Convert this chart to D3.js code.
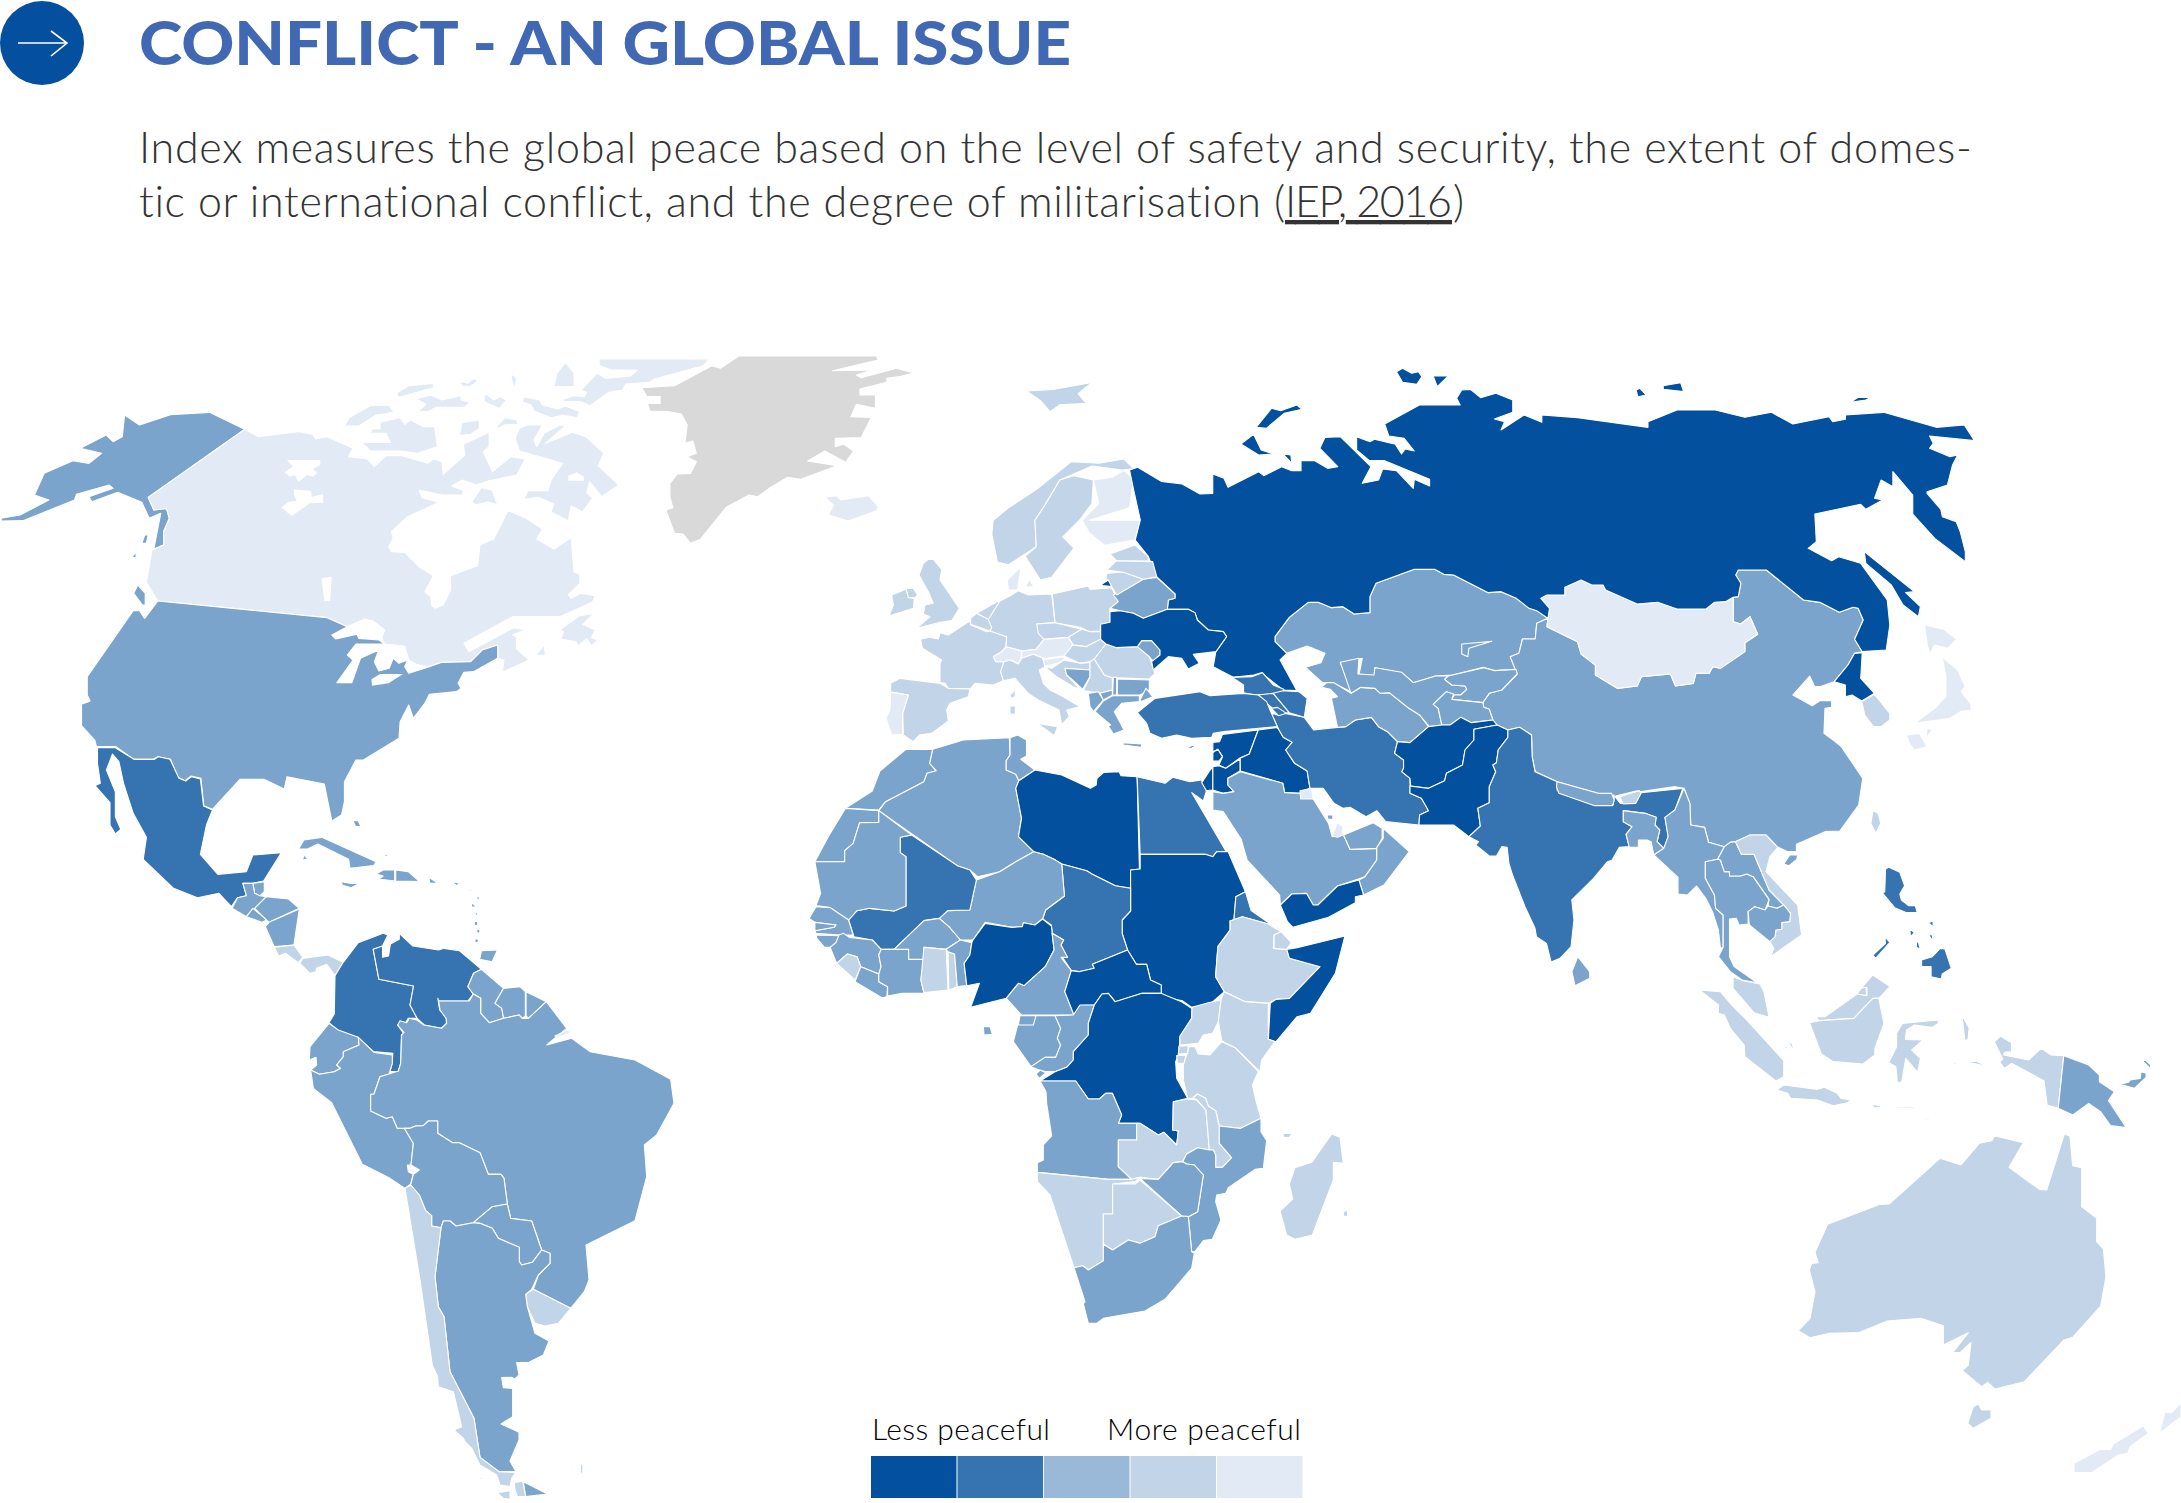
<!DOCTYPE html>
<html><head><meta charset="utf-8">
<script src="https://cdn.jsdelivr.net/npm/d3@7/dist/d3.min.js"></script>
<style>html,body{margin:0;padding:0;background:#fff}svg{display:block}text{font-variant-ligatures:none;text-decoration-skip-ink:none}</style>
</head><body><svg id="c" width="2181" height="1503" viewBox="0 0 2181 1503"></svg>
<script>
const titleText = 'CONFLICT - AN GLOBAL ISSUE';
const subtitleLine1 = 'Index measures the global peace based on the level of safety and security, the extent of domes-';
const subtitleLine2 = 'tic or international conflict, and the degree of militarisation (';
const sourceText = 'IEP, 2016';
const legendLabels = ['Less peaceful','More peaceful'];
const peaceClasses = [1,2,3,4,5];
const mapColors = ['#03509e','#3573b1','#7ba4cd','#c2d4e8','#e2eaf5'];
const legendColors = ['#03509e','#3573b1','#9ab9d9','#c2d4e8','#e2eaf5'];
const noDataColor = '#d9d9d9';
// Outlines are [name, peace class (0 = water, 6 = no data), ring, ring...] in the map plane of each sheet.
const northAmerica = [
['Alaska',3,'426,253 365,202 297,209 243,240 217,210 213,275 197,290 185,270 140,310 177,325 155,355 127,347 77,385 60,450 85,465 35,510 2,520 2,528 40,527 130,465 133,448 190,420 197,430 155,455 160,470 205,442 247,472 260,520 280,505 268,612 285,600 285,560 295,520 290,490 268,495 258,457','247,595 252,570 258,570 255,595','230,635 237,622 237,640','233,745 240,720 253,745 253,780 248,780'],
['Canada',5,'426,253 450,275 520,260 545,268 550,282 570,275 615,310 607,335 640,342 652,365 673,332 700,332 745,355 755,342 770,350 772,388 810,330 807,298 852,262 852,305 842,320 858,380 890,335 915,342 900,390 850,408 830,420 805,405 787,423 808,437 805,450 770,450 730,435 735,458 765,472 710,515 682,560 685,580 677,605 682,620 705,622 730,665 755,692 740,740 750,755 752,780 758,790 772,780 785,735 785,692 832,662 836,600 860,582 885,497 915,518 945,552 935,582 965,612 995,578 1000,680 1010,688 1010,715 990,750 995,760 1012,745 1037,752 1032,772 975,815 893,815 808,895 817,920 895,848 915,855 893,870 900,875 900,912 922,945 875,982 878,945 868,940 867,900 840,915 820,950 770,952 745,965 725,958 712,945 705,903 670,897 665,880 670,855 650,828 635,822 605,845 570,818 275,768 255,712 265,615 285,600 285,560 295,520 290,490 268,495 258,457','822,470 838,428 857,435 867,480 850,470 828,480','897,280 905,250 918,240 945,240 930,285 935,305 948,265 975,240 985,243 950,295 997,262 1022,277 1052,325 1042,362 1078,420 1048,455 1027,410 1022,443 1032,460 1015,500 995,483 990,528 960,500 965,478 938,457 912,463 920,437 955,437 960,405 980,355 905,318','630,292 680,292 672,265 645,265 648,252 662,252 662,232 697,218 705,238 715,225 738,245 757,245 762,305 727,325 698,318 645,318','600,243 608,218 645,182 677,180 687,202 655,210 625,243','690,145 712,122 755,115 755,128 695,157','725,162 750,150 770,165 803,152 803,165 818,172 810,187 760,187 745,200 728,200 742,178','800,112 808,110 815,115 825,100 833,108 818,125 805,123','845,145 860,165 872,155 882,165 870,190 843,170','893,87 900,100 897,130 890,100','805,232 835,225 835,250 820,268 800,272','880,218 900,225 903,237 878,240 868,250 865,245','1043,42 1235,42 1225,62 1140,102 1132,112 1090,117 1085,135 1060,142 1028,182 1012,170 985,170 977,165 1000,152 1018,155 1022,142 1012,135 1040,85 1055,100 1098,93 1110,75 1065,75 1045,62','985,52 1000,85 1000,125 965,125 970,85','912,155 940,165 945,180 972,192 985,183 1010,200 1005,218 980,210 960,218 930,198 925,180 910,170','975,855 1010,812 1035,805 1015,838 1037,855 1030,878 1042,885 1030,903 1022,880 1008,903 1003,890 977,882 982,860','933,932 948,900 950,930'],
['United States',3,'275,768 570,818 605,845 578,870 585,882 622,868 625,880 660,885 670,897 620,897 605,930 615,945 587,1013 613,1013 628,940 660,915 652,950 660,978 678,970 685,940 695,955 710,945 705,965 712,985 740,970 770,952 820,950 840,915 867,900 867,940 825,980 808,982 798,1015 803,1030 795,1040 748,1048 740,1075 720,1120 712,1080 697,1130 695,1180 633,1245 620,1245 600,1310 600,1370 595,1410 578,1428 565,1317 500,1295 495,1332 460,1303 418,1303 370,1393 355,1382 350,1300 333,1293 322,1308 310,1297 297,1243 275,1235 267,1243 233,1243 202,1205 168,1205 165,1185 142,1142 142,1078 157,1068 152,1050 152,995 232,797 243,797 252,820'],
['Iceland',5,'1437,457 1457,452 1465,465 1513,452 1530,485 1527,497 1478,528 1443,510 1452,480'],
['Greenland',6,'1287,33 1527,33 1530,45 1450,77 1520,75 1492,90 1500,98 1562,70 1592,84 1566,95 1545,100 1545,112 1498,132 1498,150 1525,150 1525,190 1492,178 1482,215 1518,217 1500,278 1455,280 1455,305 1470,298 1487,318 1473,352 1437,318 1407,348 1458,362 1395,403 1372,397 1340,430 1320,455 1305,450 1265,487 1220,583 1203,595 1190,567 1175,565 1160,495 1172,488 1167,455 1167,415 1180,387 1203,385 1213,350 1197,335 1213,325 1207,288 1193,295 1197,240 1187,207 1165,200 1132,198 1128,175 1150,175 1150,155 1127,155 1118,128 1175,122 1240,62 1255,70'],
['Great Bear Lake',0,'500,345 558,345 558,360 545,372 553,385 545,395 535,390 520,410 513,390 505,395 495,382 510,365'],
['Great Slave Lake',0,'512,433 542,438 543,455 563,447 563,473 540,475 508,513 490,487 503,470 517,467 512,450'],
['Lake Winnipeg',0,'560,700 578,695 575,768 565,768'],
['Lake Erie',0,'647,1003 662,987 702,987 677,1015 648,1022'],
['Baffin lake',0,'990,392 1005,382 1017,395 1017,407 990,407']
];
const centralAmerica = [
['Mexico',2,'105,83 155,83 207,118 265,118 275,110 308,118 333,175 352,183 368,170 393,177 402,258 427,270 410,315 393,403 442,463 522,455 540,405 620,398 570,483 540,490 512,490 522,527 497,533 480,560 445,520 385,533 318,505 233,418 242,352 205,280 178,190 165,125 147,102 130,150 155,215 155,290 170,328 155,342 140,315 140,248 98,197 113,190 105,130'],
['Belize',3,'540,490 572,485 572,515 560,527 545,520'],
['Guatemala',3,'512,490 540,490 545,520 560,527 578,530 545,565 522,590 482,565 497,533 522,527'],
['El Salvador',3,'522,590 540,565 580,600 565,607'],
['Honduras',3,'578,530 640,537 670,565 585,607 545,565'],
['Nicaragua',3,'670,567 655,675 600,680 575,620 585,607'],
['Costa Rica',4,'600,682 655,675 680,712 667,728 632,700 612,708'],
['Panama',4,'680,715 750,705 793,727 770,767 747,733 718,745 717,755 700,760 672,730'],
['Colombia',2,'770,767 793,727 835,668 905,640 918,645 903,678 877,688 893,778 990,798 980,855 1000,895 975,895 968,908 945,915 962,940 956,945 954,1030 947,1054 924,1055 930,1030 932,1000 878,995 835,953 780,932 753,908 768,882'],
['Venezuela',2,'877,688 903,678 903,712 920,708 925,672 950,658 950,640 988,678 1060,690 1075,685 1118,692 1180,748 1158,760 1142,800 1157,822 1142,843 1060,843 1058,835 1063,870 1082,893 1082,910 1067,925 1020,915 1000,895 980,855 990,798 893,778'],
['Trinidad',3,'1180,692 1225,690 1210,725 1175,718'],
['Guyana',3,'1180,748 1242,805 1218,850 1237,865 1242,895 1202,908 1178,880 1178,835 1157,822 1142,800 1158,760'],
['Suriname',3,'1242,805 1288,800 1303,815 1303,888 1295,895 1285,885 1242,895 1237,865 1218,850'],
['French Guiana',3,'1305,815 1362,845 1312,895 1305,888'],
['Cuba',3,'668,387 683,360 733,352 885,425 878,437 812,445 808,418 722,372 693,387'],
['Haiti',3,'885,462 905,450 937,450 937,483 892,477 905,468'],
['Dominican Republic',3,'940,450 975,455 1002,480 1002,485 940,483'],
['Jamaica',3,'787,485 815,490 840,490 815,503 790,495'],
['Antilles',3,'678,420 685,404 693,418','908,410 913,400 918,410','820,302 835,302 843,320 828,320','1033,472 1058,490 1035,490','1098,485 1120,490 1110,497','1143,508 1157,508 1148,514','1167,525 1178,538 1168,538','1152,548 1166,560 1153,562','1162,572 1172,585 1163,585','1160,603 1170,605 1168,618 1160,615','1167,627 1176,630 1175,640 1167,638','1162,657 1172,657 1170,668 1162,668']
];
const southAmerica = [
['Ecuador',3,'147,70 175,90 235,112 237,135 190,155 190,170 170,195 182,205 163,215 118,223 92,210 110,195 108,172 88,180 90,140'],
['Peru',3,'92,210 118,223 163,215 182,205 170,195 190,170 190,155 237,135 235,112 282,157 337,165 337,190 327,222 300,230 282,282 272,283 272,333 318,355 337,350 352,385 373,385 400,430 393,495 382,495 385,515 400,523 392,552 375,565 330,535 247,493 155,308 100,265'],
['Brazil',3,'476,3 568,3 580,-18 602,-5 602,40 628,68 671,55 717,45 727,55 745,55 799,5 860,85 800,135 875,115 930,155 1065,180 1172,238 1182,310 1130,405 1093,435 1100,530 1065,662 918,735 927,840 913,875 872,925 760,868 775,825 810,790 810,760 785,750 755,663 692,655 682,612 672,535 663,523 625,523 600,458 538,428 518,428 473,400 473,363 445,363 430,377 407,378 390,385 373,385 352,385 337,350 318,355 272,333 272,283 282,282 300,230 327,222 355,213 362,190 365,105 372,97 353,75 360,62 380,68 388,55 410,60 432,75 485,85 500,70 498,55 480,30'],
['Bolivia',3,'373,385 390,385 407,378 430,377 445,363 473,363 473,400 518,428 538,428 600,458 625,523 663,523 672,535 682,612 637,620 580,668 528,678 510,663 490,663 483,683 455,678 455,647 437,632 418,585 392,555 400,523 418,510 393,495 400,430'],
['Paraguay',3,'682,612 692,655 755,663 785,750 757,787 725,795 718,785 718,742 655,715 637,685 600,670 580,668 637,620'],
['Uruguay',4,'737,883 760,868 872,925 835,970 795,978 765,970 742,920'],
['Argentina',3,'490,663 510,663 528,678 580,668 600,670 637,685 655,715 718,742 718,785 725,795 757,787 785,750 810,760 810,790 775,825 755,868 737,883 742,920 765,1000 807,1023 790,1065 747,1087 710,1088 717,1125 705,1137 695,1132 665,1133 670,1163 698,1165 698,1250 663,1272 717,1297 717,1320 690,1383 708,1415 657,1415 600,1372 582,1255 510,1115 492,950 475,920 465,830 483,683','730,1445 803,1482 737,1490'],
['Chile',4,'375,565 392,555 418,585 437,632 455,647 455,678 483,683 465,830 475,920 492,950 510,1115 582,1255 600,1372 657,1415 708,1418 695,1435 690,1460 660,1455 650,1425 600,1395 575,1345 555,1325 550,1315 522,1290 545,1280 520,1175 475,1160 473,1130 457,1095 420,840','703,1448 728,1443 737,1490 712,1490 705,1470','652,1478 690,1472 690,1498 670,1495','590,1430 605,1432 615,1443'],
['Falklands',3,'903,1393 908,1393 908,1420 903,1420','875,1400 880,1400 880,1408'],
['Marajo',5,'825,108 868,88 868,100 835,112']
];
const europe = [
['United Kingdom',4,'205,118 220,118 245,148 240,180 298,265 275,302 235,308 170,325 210,290 190,282 195,255 220,250 205,215 177,165 190,130','138,205 160,205 173,225 165,233 145,233'],
['Ireland',4,'95,225 138,208 145,233 163,235 160,265 87,288 100,255'],
['France',4,'182,358 208,352 235,357 240,338 265,345 330,302 332,315 380,335 395,333 440,350 438,380 425,395 400,410 408,425 432,425 422,455 430,482 400,495 345,490 330,507 265,505 255,490 240,487 240,430 245,420 187,385','450,525 467,508 465,530 452,535'],
['Belgium',4,'332,295 350,280 385,298 395,323 390,333 332,313'],
['Netherlands',4,'350,280 415,243 420,270 385,298'],
['Germany',4,'420,243 385,298 395,323 390,333 440,350 438,380 485,393 528,388 552,358 530,312 585,308 575,222 505,225 475,212 455,225'],
['Denmark',5,'445,210 442,180 483,140 473,210','498,195 508,177 522,200 500,202'],
['Poland',4,'577,222 685,198 690,208 755,203 775,245 750,265 750,307 722,313 720,333 690,335 660,322 585,308'],
['Kaliningrad',1,'725,193 745,180 757,200 727,197'],
['Czech Republic',4,'530,312 585,308 665,328 625,352 552,358 535,340'],
['Slovakia',4,'625,352 665,328 690,335 722,335 722,358 678,380 640,375'],
['Austria',5,'485,393 528,388 552,358 625,352 638,375 612,408 555,415 520,403 485,415'],
['Switzerland',5,'400,410 425,395 440,380 485,393 482,420 475,430 450,420 432,425 408,425'],
['Slovenia',5,'550,420 610,410 615,422 575,435 553,438'],
['Hungary',4,'638,375 678,380 722,358 738,372 703,417 690,425 660,430 612,408'],
['Italy',4,'430,482 422,455 432,425 450,420 475,432 485,415 520,403 548,415 555,440 538,450 550,490 570,510 610,530 660,560 620,570 628,590 605,613 597,570 535,540 505,520 465,475','532,610 593,620 583,647','450,558 466,558 466,582 450,582'],
['Croatia',4,'575,445 612,420 660,430 690,427 690,450 615,445 620,465 660,508 640,500 590,470 565,450 555,440'],
['Bosnia',3,'615,445 690,450 690,470 668,508 640,482 620,465'],
['Serbia',4,'690,425 703,417 733,465 757,475 757,510 720,520 670,512 690,470 690,450'],
['Romania',4,'703,417 738,372 770,383 832,380 868,410 885,460 868,477 757,473 733,465'],
['Moldova',3,'832,380 845,362 875,362 900,390 900,405 880,425 868,410'],
['Bulgaria',3,'772,477 868,480 868,510 840,525 772,525'],
['Kosovo',3,'760,472 770,472 770,525 758,525'],
['Albania',3,'685,520 715,515 730,540 700,575 690,560'],
['Macedonia',3,'720,520 757,510 757,525 730,540'],
['Greece',3,'730,543 758,527 838,527 838,545 785,550 763,575 792,630 760,642 745,618 752,615 705,575','788,668 846,672 843,682 790,675'],
['Thrace',3,'840,540 858,505 878,530 842,545'],
['Cyprus',2,'975,683 1015,672 995,685'],
['Turkey',2,'832,578 885,535 1020,515 1050,527 1150,520 1195,525 1220,545 1230,570 1255,627 1250,620 1090,635 1060,640 1055,652 995,655 950,645 905,655 870,640 860,610'],
['Spain',4,'92,490 120,475 240,490 265,505 330,507 325,530 270,550 260,570 265,603 215,640 178,645 160,665 130,645 128,580 145,525 92,515'],
['Portugal',5,'92,517 145,525 128,580 128,642 95,645 78,595 90,570'],
['Belarus',3,'775,245 760,225 845,178 890,172 945,222 945,235 925,240 922,268 850,295 820,280 780,272 750,265'],
['Lithuania',4,'740,160 790,155 850,178 770,225 757,203 745,180 738,178'],
['Latvia',4,'740,150 770,122 878,125 890,170 850,178 790,157'],
['Estonia',4,'750,102 825,75 865,110 865,123 770,122'],
['Ukraine',1,'722,313 750,307 750,275 780,272 820,280 850,295 922,268 985,268 1005,278 1012,300 1045,330 1090,335 1100,350 1068,395 1000,403 1018,430 985,447 965,415 925,410 880,450 875,425 900,405 900,390 875,362 845,362 832,380 770,383 738,372 722,358']
];
const nordic = [
['Norway',4,'713,384 717,404 725,406 745,393 744,374 750,365 762,345 785,335 807,338 815,337 808,330 790,333 770,332 745,352 725,365 714,374'],
['Sweden',4,'744,374 745,393 737,400 748,417 756,415 772,394 764,386 776,374 785,362 786,345 772,342 762,345 750,365'],
['Finland',5,'783,374 820,374 816,388 794,392 783,383 778,374 790,362 786,345 800,343 808,338 815,345 812,365'],
['Svalbard',4,'738,281 757,280 785,275 775,283 781,290 762,291 755,296 748,288']
];
const africaNorth = [
['Morocco',3,'303,88 373,88 365,130 382,152 358,160 350,185 250,245 232,270 145,265 215,213 235,153'],
['Algeria',3,'373,88 453,60 573,53 575,105 565,122 565,150 590,163 598,182 590,205 605,295 597,350 637,395 590,425 548,455 490,470 470,450 437,437 232,272 250,245 350,185 358,160 382,152 365,130'],
['Tunisia',3,'575,53 595,45 618,60 618,108 603,118 640,150 598,182 590,163 565,150 565,122 575,105'],
['Libya',1,'640,150 710,165 785,205 800,195 802,175 820,157 860,155 865,167 907,170 913,447 890,450 890,505 850,497 790,463 775,452 710,432 690,418 662,403 637,395 597,350 605,295 590,205 598,182'],
['Egypt',2,'907,170 980,190 1000,172 1045,185 1075,180 1088,213 1080,243 1050,218 1140,395 1115,395 1105,410 1085,403 915,403'],
['Sudan',1,'915,403 1085,403 1105,410 1115,395 1145,395 1190,515 1165,530 1160,600 1150,603 1150,630 1118,680 1112,770 1135,815 1095,855 1050,862 1025,842 980,832 970,820 970,795 942,780 932,733 905,733 882,690 868,640 868,600 890,573 890,450 915,447'],
['Eritrea',2,'1190,515 1205,572 1280,632 1250,612 1182,590 1150,603 1160,600 1165,530'],
['Ethiopia',4,'1150,603 1182,590 1250,612 1283,635 1265,645 1263,685 1298,688 1305,715 1385,740 1305,835 1270,838 1250,850 1190,845 1135,815 1112,770 1118,680 1150,630'],
['Djibouti',4,'1265,645 1283,635 1310,668 1298,688 1265,685'],
['Somalia',1,'1298,688 1325,683 1450,648 1425,760 1360,880 1325,890 1270,965 1250,958 1255,850 1270,838 1305,835 1385,740 1305,715'],
['Chad',2,'710,432 775,452 790,463 850,497 890,505 890,573 868,600 868,640 882,690 790,733 795,745 755,755 735,752 712,712 725,712 708,675 715,660 685,640 683,615 660,597 668,570 717,528'],
['Niger',3,'637,395 662,403 690,418 710,432 717,528 668,570 660,597 640,615 610,608 607,620 580,622 510,607 478,660 445,660 415,620 390,595 412,572 470,570 487,480 548,455 590,425'],
['Mali',2,'288,352 318,345 437,437 470,450 487,480 470,570 412,572 390,595 350,602 272,688 238,688 215,660 167,650 153,600 175,572 208,565 272,573 303,558 303,410 288,398'],
['Western Sahara',3,'145,265 232,272 232,307 182,308 165,370 143,392 143,425 65,425 100,350'],
['Mauritania',3,'232,272 318,345 288,352 288,398 303,410 303,558 272,573 208,565 175,572 153,600 105,563 68,557 80,520 65,425 143,425 143,392 165,370 182,308 232,307'],
['Senegal',3,'50,595 68,560 105,563 153,600 165,645 130,645 68,640 65,632 115,622 120,615 65,607'],
['Gambia',3,'65,607 120,615 115,622 65,632'],
['Guinea-Bissau',3,'68,645 128,647 120,668 105,682 90,682 70,655'],
['Guinea',3,'128,645 140,640 155,652 215,660 238,688 232,705 238,740 232,762 185,740 175,710 150,702 122,730 105,682 120,668'],
['Sierra Leone',4,'122,730 150,702 175,710 185,740 170,780'],
['Liberia',3,'185,740 232,762 232,785 255,800 253,830 240,833 170,785'],
["Cote d'Ivoire",3,'238,688 310,688 310,718 350,718 342,780 350,820 293,820 255,828 255,800 232,785 232,762 238,740 232,705'],
['Burkina Faso',3,'272,688 350,602 390,595 415,620 445,660 408,688 350,682 350,718 310,718 310,688'],
['Ghana',4,'350,682 408,688 413,810 350,818 342,780'],
['Togo',4,'413,695 430,702 437,800 415,810'],
['Benin',3,'408,688 445,660 475,668 470,705 455,730 462,797 437,800 430,702 413,695'],
['Nigeria',1,'478,660 510,610 580,622 607,620 610,608 640,615 660,597 683,618 685,640 690,690 667,740 612,797 597,790 565,835 472,862 495,790 462,797 455,730 470,705 475,668'],
['Cameroon',3,'685,640 715,660 708,675 725,712 708,712 735,752 718,815 742,885 605,885 565,835 597,790 612,797 667,740 690,690'],
['Central African Republic',1,'735,752 755,755 795,745 790,733 882,690 905,733 932,733 942,780 970,795 970,820 920,820 850,845 832,820 815,822 795,855 757,857 742,885 718,815']
];
const africaSouth = [
['Gabon',3,'180,47 285,47 302,85 292,115 302,135 287,172 255,172 213,200 160,125'],
['Equatorial Guinea',3,'180,47 228,47 220,75 175,75'],
['Congo',3,'285,47 340,45 360,15 403,15 385,70 385,105 340,155 340,180 320,202 285,215 258,215 238,210 213,200 255,172 287,172 302,135 292,115 302,85'],
['Cabinda',3,'228,222 240,210 258,218 238,235'],
['DR Congo',1,'403,15 426,-18 445,-20 465,5 546,-20 603,-20 666,6 696,26 695,55 660,110 657,160 647,185 650,235 683,295 640,305 638,390 655,393 650,435 612,397 595,405 540,370 475,370 485,345 457,280 437,280 418,297 385,297 347,243 240,243 285,215 320,202 340,180 340,155 385,105 385,70'],
['Uganda',4,'696,22 745,8 783,0 775,65 758,100 730,105 715,130 660,135 660,108 695,55'],
['Kenya',4,'792,-25 855,5 925,10 925,118 945,125 905,180 900,215 825,143 785,122 775,65 783,0'],
['Tanzania',4,'705,140 715,162 750,165 785,125 825,143 895,215 877,255 890,310 903,355 842,385 778,378 767,332 745,318 737,295 712,282 697,295 683,295 670,240 670,190 680,165 687,140'],
['Rwanda',4,'657,138 685,138 683,160 655,163'],
['Burundi',4,'650,167 678,165 672,190 652,190'],
['Angola',3,'240,243 347,243 385,297 418,297 437,280 457,280 485,345 475,370 530,370 530,420 475,420 475,500 515,538 445,538 232,517 232,488 250,480 250,435 275,408 260,310 258,275'],
['Zambia',4,'530,370 540,370 595,405 612,397 650,435 655,393 638,390 640,305 683,297 710,300 738,330 748,450 713,443 680,462 668,485 640,488 595,538 540,532 515,538 475,500 475,420 530,420'],
['Malawi',4,'710,298 698,295 712,282 737,295 745,318 767,332 778,378 778,430 815,473 787,502 767,502 767,465 760,450 748,450 738,330'],
['Mozambique',3,'778,378 842,385 903,355 903,395 920,422 910,505 885,508 805,563 797,580 770,585 767,605 783,660 757,718 730,722 705,755 695,755 685,650 713,635 730,525 703,495 680,492 668,485 680,462 713,443 748,450 760,450 767,465 767,502 787,502 815,473 778,430'],
['Zimbabwe',3,'540,535 595,538 640,488 668,485 680,492 703,495 730,525 713,635 685,650 665,648'],
['Namibia',4,'232,517 445,538 515,538 540,532 525,545 460,552 458,642 430,642 430,782 385,810 368,797 342,803 270,585 232,545'],
['Botswana',4,'458,552 525,552 540,540 665,648 595,677 585,710 540,730 505,720 458,750 430,733 430,642 458,642'],
['South Africa',3,'430,733 458,750 505,720 540,730 585,710 595,677 665,648 685,650 695,755 703,760 695,805 615,898 555,933 430,955 410,970 385,970 370,912 375,905 342,803 368,797 385,810 430,782'],
['Madagascar',4,'1115,402 1140,412 1150,490 1120,487 1120,540 1057,705 1005,718 980,705 960,633 998,597 988,552 1005,503 1055,487'],
['Comoros',4,'968,400 998,400 987,413 972,413'],
['Mauritius',4,'1150,635 1163,630 1163,650 1150,648'],
['Sao Tome',3,'70,80 90,80 97,103 72,105']
];
const middleEast = [
['Syria',1,'316,427 335,425 343,403 443,390 418,462 390,475 352,505 333,495 343,470 330,448 316,455'],
['Iraq',1,'443,390 497,382 513,412 538,427 520,450 545,490 580,513 588,565 560,580 517,578 512,550 393,513 392,475 418,462'],
['Lebanon',1,'316,458 330,448 343,470 333,483 316,483'],
['Israel',1,'285,548 305,515 316,500 316,570 298,572'],
['Jordan',1,'333,497 352,505 392,477 392,513 358,535 358,555 375,575 345,580 316,570 316,500'],
['Saudi Arabia',3,'316,575 345,580 375,575 358,555 358,535 393,515 512,550 517,578 560,580 597,597 640,670 650,710 682,705 700,748 775,745 775,780 742,830 665,858 610,915 597,915 578,880 537,882 505,915 503,885 412,780 395,717 345,635 316,630'],
['Kuwait',5,'560,572 592,565 597,597 562,597'],
['Bahrain',3,'636,645 652,645 652,658 638,658'],
['Qatar',5,'650,708 665,668 680,680 680,705 665,712'],
['UAE',3,'682,705 765,668 790,685 790,715 775,745 700,748'],
['Oman',3,'793,685 866,755 795,855 738,885 725,840 742,830 775,780 775,742 793,715'],
['Yemen',1,'505,915 537,882 578,880 597,915 610,915 665,858 725,840 738,885 715,890 715,908 640,952 540,982 525,965'],
['Iran',2,'497,345 515,340 572,352 598,390 665,382 688,380 715,360 760,352 780,380 805,395 833,425 825,460 850,480 850,505 845,515 868,535 868,580 900,595 920,632 895,645 893,675 800,665 775,632 745,650 700,622 680,625 655,610 625,565 588,565 580,513 545,490 520,450 538,427 513,412 497,382 480,340'],
['Georgia',2,'370,232 425,230 455,218 485,255 515,268 510,280 435,285 402,278 402,255'],
['Armenia',2,'440,285 485,280 530,338 515,340 497,345 480,322'],
['Azerbaijan',2,'485,280 512,272 557,275 580,295 572,352 530,338','480,325 497,322 522,340 500,347'],
['Turkmenistan',3,'648,295 665,290 645,268 620,262 635,248 655,248 703,280 730,262 770,265 785,280 810,278 865,325 895,345 920,380 868,428 833,425 805,395 780,380 760,352 715,360 688,380 665,382'],
['Uzbekistan',3,'673,187 725,175 722,222 767,225 770,203 845,217 877,248 940,228 975,228 965,238 985,255 1022,258 1027,268 1010,285 990,285 970,275 933,313 947,325 957,375 922,380 895,345 865,325 810,278 785,280 770,265 730,262 703,280'],
['Kyrgyzstan',3,'965,238 975,228 1075,203 1105,212 1165,208 1168,222 1125,270 1090,280 1072,308 985,298 992,285 1010,285 1027,268 1022,258 985,255'],
['Tajikistan',3,'933,313 970,275 990,282 985,298 1072,308 1075,322 1090,328 1100,360 1040,368 1010,352 980,375 957,375 947,325'],
['Afghanistan',1,'833,425 868,428 920,380 957,375 980,375 1010,352 1040,368 1100,360 1112,375 1047,388 1047,420 1022,450 1015,495 970,520 965,542 920,565 870,558 868,535 845,515 850,505 850,480 825,460'],
['Pakistan',1,'868,558 920,565 965,542 970,520 1015,495 1022,450 1047,420 1047,388 1112,375 1142,390 1142,412 1115,450 1110,488 1100,495 1108,515 1090,560 1090,608 1058,625 1065,678 1033,710 990,675 893,675 895,645 920,632 900,595 868,580'],
['India',2,'1142,390 1175,382 1208,405 1210,470 1218,515 1280,545 1280,570 1290,580 1385,615 1437,615 1440,590 1438,585 1457,610 1499,610 1515,578 1632,565 1610,630 1582,652 1591,710 1579,745 1560,725 1567,690 1554,675 1557,652 1526,640 1465,632 1465,665 1490,680 1473,703 1482,740 1454,742 1434,780 1421,785 1382,835 1321,900 1327,960 1319,1040 1288,1075 1263,1086 1250,1030 1222,1010 1218,985 1190,920 1155,825 1145,790 1140,742 1125,740 1110,768 1090,768 1052,735 1060,725 1033,710 1065,678 1058,625 1090,608 1090,560 1108,515 1100,495 1110,488 1115,450 1142,412'],
['Nepal',3,'1280,545 1395,580 1432,580 1440,600 1435,617 1385,617 1285,580 1278,560'],
['Bhutan',4,'1455,590 1510,572 1515,580 1500,610 1465,612']
];
const northAsia = [
['Kazakhstan',3,'147,860 175,802 212,757 232,757 258,773 280,770 302,792 333,788 333,740 345,700 420,658 460,658 478,673 497,675 565,728 590,725 620,745 645,775 660,782 682,805 660,820 657,867 632,867 625,910 608,920 618,958 580,962 555,952 495,975 462,978 418,998 395,968 343,953 342,978 312,972 318,925 275,938 300,1028 262,1000 240,998 207,952 237,938 245,910 210,888 170,910 147,875'],
['Balkhash',3,'513,882 572,874 527,895 525,920 513,912'],
['China',3,'682,805 680,830 740,875 747,912 775,945 775,975 818,1015 857,1008 865,980 922,972 932,1008 967,1000 972,970 998,970 1005,950 1020,955 1068,905 1068,878 1093,853 1078,800 1060,822 1045,815 1045,742 1055,740 1060,700 1050,675 1055,660 1110,660 1183,750 1215,757 1253,787 1280,772 1290,775 1300,810 1283,868 1298,905 1283,910 1270,945 1243,995 1215,1010 1205,1010 1195,978 1162,1035 1200,1067 1215,1052 1238,1052 1238,1072 1225,1075 1223,1150 1241,1170 1257,1190 1299,1285 1291,1365 1254,1443 1225,1445 1169,1483 1169,1505 1152,1505 1131,1490 1109,1455 1078,1455 1049,1475 1039,1477 1028,1490 997,1477 989,1432 962,1425 960,1360 949,1315 931,1310 865,1325 857,1322 822,1335 810,1340 780,1330 700,1295 657,1265 651,1220 650,1155 626,1132 603,1140 582,1125 574,1110 567,1078 556,1072 554,1058 567,1030 591,1020 622,972 618,958 608,920 625,910 632,867 657,867 660,820'],
['Mongolia',5,'668,745 680,735 715,735 715,712 747,690 768,705 790,705 795,720 857,762 897,757 935,777 992,777 1008,757 1030,755 1045,742 1045,815 1060,822 1078,800 1093,853 1068,878 1068,905 1020,955 1005,950 998,970 972,970 967,1000 932,1008 922,972 865,980 857,1008 818,1015 775,975 775,945 747,912 740,875 680,830 682,805 685,775'],
['Russia',1,'26,950 65,982 105,975 120,968 163,1020 190,1022 157,930 170,910 147,875 147,860 175,802 212,757 232,757 258,773 280,770 302,792 333,788 333,740 345,700 420,658 460,658 478,673 497,675 565,728 590,725 620,745 645,775 660,782 682,805 685,775 668,745 680,735 715,735 715,712 747,690 768,705 790,705 795,720 857,762 897,757 935,777 992,777 1008,757 1030,755 1045,742 1055,740 1060,700 1050,675 1055,660 1110,660 1183,750 1215,757 1253,787 1280,772 1290,775 1300,810 1283,868 1298,905 1345,900 1352,825 1347,750 1295,640 1252,620 1238,632 1192,595 1208,575 1205,492 1295,463 1305,478 1338,450 1322,445 1335,390 1358,410 1358,365 1397,435 1397,492 1440,565 1500,635 1500,605 1490,545 1482,515 1455,500 1452,478 1425,430 1425,425 1465,405 1475,345 1485,315 1470,320 1430,295 1437,280 1430,258 1518,272 1498,225 1443,232 1340,187 1265,195 1265,208 1240,215 1233,200 1162,222 1120,187 1068,202 1010,180 935,180 878,215 878,232 740,203 670,195 670,217 635,195 590,240 597,215 577,207 613,187 613,150 580,130 550,143 530,118 513,120 503,145 510,165 430,165 362,222 370,258 400,265 420,303 402,297 395,312 383,283 342,268 333,275 307,260 307,300 332,332 362,332 450,388 450,408 420,388 418,415 385,362 358,357 350,390 318,400 335,350 275,260 245,262 235,295 270,350 250,355 225,332 198,332 198,362 180,362 160,350 125,377 115,365 55,412 47,385 25,372 25,430 0,432 -35,402 -76,394 -122,352 -138,360 -130,420 -117,510 -127,570 -101,620 -85,680 -49,732 -49,745 -62,750 -64,778 -23,778 -10,788 -5,810 16,840 46,845 52,860 31,905','110,232 140,175 158,182 190,165 200,178 165,190 130,235','80,282 105,253 120,300 145,312 115,315','163,312 178,315 180,340','385,65 397,55 415,70 428,65 435,80 425,103 397,97','457,78 487,78 465,110','855,120 862,115 875,135 858,140','908,107 942,98 948,125 908,118','1275,157 1290,142 1315,142 1305,150','1302,605 1400,725 1383,728 1412,770 1408,800 1378,765 1355,705 1305,640'],
['North Korea',1,'1283,910 1298,908 1295,985 1322,1030 1297,1053 1278,1035 1265,1040 1265,1005 1243,995 1270,945'],
['South Korea',4,'1322,1033 1352,1090 1352,1110 1335,1130 1320,1130 1303,1095 1297,1055'],
['Japan',5,'1420,825 1458,838 1483,868 1465,895 1440,885 1430,913 1425,880','1455,922 1485,960 1500,1010 1492,1025 1510,1060 1512,1080 1490,1085 1470,1105 1400,1120 1440,1075 1462,1040 1462,980','1385,1155 1410,1150 1425,1190 1400,1200 1390,1180','1425,1135 1435,1140 1423,1165']
];
const southeastAsia = [
['Bangladesh',3,'160,212 215,220 243,232 240,255 252,270 245,305 262,325 237,345 230,305 220,300 198,300 198,322 175,322 167,283 182,260 160,245'],
['Myanmar',3,'313,145 328,190 330,255 365,262 375,307 415,320 398,358 367,365 367,415 390,465 393,505 412,525 412,622 405,625 400,570 385,515 368,475 345,438 322,465 298,462 298,412 237,345 262,325 273,290 265,232 290,210'],
['Thailand',3,'367,365 398,358 405,360 415,395 428,395 428,408 455,408 472,402 488,410 528,478 518,510 492,500 475,515 475,552 452,555 445,535 428,537 428,650 440,680 497,728 460,720 430,695 400,650 412,622 412,525 393,505 390,465 367,415'],
['Laos',3,'415,320 430,307 443,305 458,343 490,343 510,400 528,450 565,495 548,505 525,498 528,478 488,410 472,402 455,408 428,408 428,395 415,395 405,360 398,358'],
['Vietnam',4,'443,305 480,285 520,285 550,322 530,350 520,395 600,495 610,585 532,650 540,625 530,605 543,590 545,570 560,568 560,548 580,545 582,520 565,495 528,450 510,400 490,343 458,343'],
['Cambodia',3,'475,515 492,500 518,510 525,498 548,505 565,495 582,520 580,545 560,548 560,568 545,570 543,590 530,605 478,555'],
['Hainan',3,'565,372 580,345 600,345 598,358 578,377'],
['Taiwan',4,'790,212 803,220 810,250 797,280 785,250'],
['Sri Lanka',3,'45,650 75,695 75,715 38,737 30,695'],
['Philippines',2,'822,387 830,382 858,397 870,437 858,462 862,480 880,497 897,497 902,518 875,518 845,503 815,460 820,455','900,545 912,558 903,553','930,548 942,543 942,560','883,567 895,578 885,590','930,583 940,585 942,605','900,605 905,607 910,628 900,622','820,590 833,607 797,655 790,645 822,610','960,625 972,627 988,685 965,702 963,717 937,710 937,680 913,680 913,660 940,650'],
['Malaysia',4,'437,710 462,722 505,732 515,755 528,832 490,818 437,745','645,830 670,830 750,762 775,765 775,742 760,745 790,705 833,740 805,775 790,775 742,835 655,842'],
['Brunei',4,'750,762 760,745 772,742 775,767'],
['Indonesia',4,'630,848 655,842 742,835 790,775 805,775 818,850 795,925 795,945 765,972 690,965 660,942','352,750 405,755 435,797 470,838 565,962 565,1010 545,1023 467,950 465,915 430,865 415,825 400,820 400,795','547,1050 565,1035 650,1048 668,1042 700,1060 710,1075 735,1080 725,1088 690,1097 650,1080 582,1075 575,1060','865,850 955,840 955,850 940,862 895,855 875,870 872,898 917,900 888,930 910,955 903,997 873,955 863,1025 852,1028 848,980 830,968 850,920 850,880','1015,825 1033,865 1030,900 1022,900','985,965 1000,970 1002,977','1025,968 1050,963 1078,978 1040,970','790,1093 820,1100 792,1104','848,1101 897,1101 895,1105 850,1105','830,1132 850,1140 840,1140','920,1138 980,1112 925,1140','565,920 572,918 577,932','578,910 585,908 593,937','1097,905 1112,888 1140,908 1140,935 1122,937 1120,945 1183,960 1215,925 1240,945 1272,947 1258,1105 1230,1095 1222,1022 1140,970 1122,985 1110,965 1118,958'],
['Papua New Guinea',3,'1272,947 1335,975 1362,1005 1362,1025 1400,1055 1385,1082 1430,1163 1390,1157 1365,1115 1335,1090 1295,1125 1258,1105','1415,1033 1435,1027 1440,1020 1465,1015 1467,995 1480,1000 1480,1012 1450,1045','1475,957 1492,975 1490,985 1473,965']
];
const oceania = [
['Australia',4,'115,692 150,655 165,575 148,510 155,490 175,488 165,457 203,373 360,313 387,312 540,175 603,195 658,130 695,122 705,108 790,128 747,202 838,268 860,270 913,102 930,108 938,197 965,203 965,320 1010,355 1010,425 1030,447 1038,530 1022,618 938,712 912,720 793,845 705,867 683,847 665,860 607,812 625,795 633,727 600,758 578,758 625,698 550,735 550,677 483,655 382,663 295,698 208,700 150,713','623,970 640,920 655,912 665,930 693,930 693,955 640,985'],
['New Zealand',5,'942,1090 1022,1048 1052,1048 1060,1032 1150,977 1165,1000 1110,1040 1103,1060 1075,1065 995,1118 942,1118','1198,1000 1215,937 1235,937 1263,910 1263,950']
];
// Each group of outlines is placed on the map by its own offset and x/y scale.
const mapSheets = [
 {shapes:northAmerica, dx:0, dy:345, kx:1.742, ky:3},
 {shapes:centralAmerica, dx:60, dy:720, kx:2.8, ky:3},
 {shapes:southAmerica, dx:280, dy:1000, kx:3, ky:3},
 {shapes:nordic, dx:0, dy:0, kx:0.7189, ky:0.7189},
 {shapes:africaNorth, dx:790, dy:720, kx:2.613, ky:3},
 {shapes:africaSouth, dx:960, dy:1000, kx:3, ky:3},
 {shapes:northAsia, dx:1200, dy:350, kx:1.96, ky:3},
 {shapes:middleEast, dx:1100, dy:600, kx:2.8, ky:3},
 {shapes:europe, dx:860, dy:520, kx:3, ky:3},
 {shapes:southeastAsia, dx:1560, dy:740, kx:2.525, ky:3},
 {shapes:oceania, dx:1760, dy:1100, kx:3, ky:3}
];

const svg = d3.select('#c');
const color = d3.scaleOrdinal().domain(peaceClasses).range(mapColors);
const legendColor = d3.scaleOrdinal().domain(peaceClasses).range(legendColors);
const fillOf = c => c === 0 ? '#fff' : c === 6 ? noDataColor : color(c);
const parseRing = s => { const r = s.trim().split(/\s+/).map(p => p.split(',').map(Number)); r.push(r[0]); return [r]; };

const mapG = svg.append('g').attr('stroke','#fff').attr('stroke-width',1.1).attr('stroke-linejoin','round');
const draws = [];
mapSheets.forEach(sheet => {
  const path = d3.geoPath(d3.geoTransform({point(x,y){ this.stream.point(sheet.dx + x/sheet.kx, sheet.dy + y/sheet.ky); }}));
  sheet.shapes.forEach(([name,c,...rings]) => draws.push({name,c,d:path({type:'MultiPolygon',coordinates:rings.map(parseRing)})}));
});
mapG.selectAll('path').data(draws).join('path').attr('d',d=>d.d).attr('fill',d=>fillOf(d.c)).attr('stroke',d=>d.c===0?'none':null).append('title').text(d=>d.name);

// header
const sans = 'Lato, "Open Sans", sans-serif';
svg.append('circle').attr('cx',42).attr('cy',43).attr('r',42).attr('fill','#04509f');
svg.append('path').attr('d','M18 43H67M51 31L67 43L51 56').attr('fill','none').attr('stroke','#fff').attr('stroke-width',1.6);
svg.append('text').attr('x',139).attr('y',65).attr('font-family',sans).attr('font-weight',900).attr('font-size',61).attr('fill','#4168b3').attr('textLength',932).attr('lengthAdjust','spacingAndGlyphs').text(titleText);
const sub = (x,y,len,t) => svg.append('text').attr('x',x).attr('y',y).attr('font-family',sans).attr('font-weight',300).attr('font-size',43).attr('fill','#333').attr('textLength',len).text(t);
sub(139,163,1833,subtitleLine1);
sub(139,217,1146,subtitleLine2);
sub(1285,217,167,sourceText).attr('text-decoration','underline');
sub(1453,217,12,')');

// legend
const legendX = d3.scaleBand().domain(peaceClasses).range([870.5,1303]);
svg.append('g').selectAll('rect').data(peaceClasses).join('rect')
  .attr('x',d=>legendX(d)+0.5).attr('y',1456).attr('width',legendX.bandwidth()-1).attr('height',42).attr('fill',d=>legendColor(d));
svg.append('text').attr('x',872).attr('y',1440).attr('font-family',sans).attr('font-weight',300).attr('font-size',30).attr('fill','#000').attr('textLength',178).text(legendLabels[0]);
svg.append('text').attr('x',1107).attr('y',1440).attr('font-family',sans).attr('font-weight',300).attr('font-size',30).attr('fill','#000').attr('textLength',194).text(legendLabels[1]);
</script></body></html>
